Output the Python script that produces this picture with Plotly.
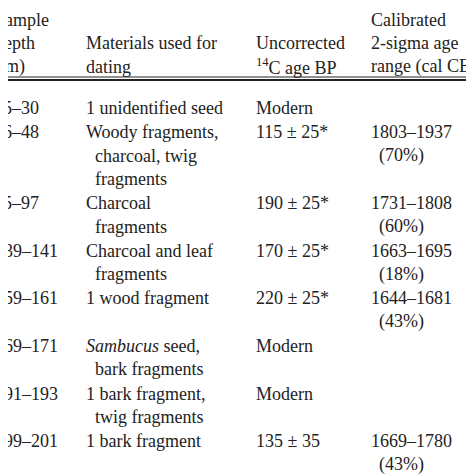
import plotly.graph_objects as go

header = [
    ["Sample", "Depth", "(cm)"],
    ["", "Materials used for", "dating"],
    ["", "Uncorrected", "<sup>14</sup>C age BP"],
    ["Calibrated", "2-sigma age", "range (cal CE)"],
]
depths = ["25–30", "46–48", "95–97", "139–141", "159–161", "169–171", "191–193", "199–201"]
materials = [
    ["1 unidentified seed"],
    ["Woody fragments,", "charcoal, twig", "fragments"],
    ["Charcoal", "fragments"],
    ["Charcoal and leaf", "fragments"],
    ["1 wood fragment", ""],
    ["<i>Sambucus</i> seed,", "bark fragments"],
    ["1 bark fragment,", "twig fragments"],
    ["1 bark fragment", ""],
]
ages = ["Modern", "115 ± 25*", "190 ± 25*", "170 ± 25*", "220 ± 25*", "Modern", "Modern", "135 ± 35"]
calibrated = [[""], ["1803–1937", "(70%)"], ["1731–1808", "(60%)"], ["1663–1695", "(18%)"],
              ["1644–1681", "(43%)"], [""], [""], ["1669–1780", "(43%)"]]

col_x = [None, 76, 246, 361]
indent = [0, 9, 0, 8]
header_right = [43, 29, 19]   # depth column is cut at the left edge: anchor right
line_h = 23.3
font = dict(family="Liberation Serif", size=18, color="#222")

ann = []
def put(x, y, t, anchor="left"):
    ann.append(dict(x=x, y=y, xref="x", yref="y", text=t, showarrow=False,
                    xanchor=anchor, yanchor="middle", font=font))

for c, lines in enumerate(header):
    for i, t in enumerate(lines):
        if not t:
            continue
        if c == 0:
            put(header_right[i], 12 + i * line_h, t, "right")
        else:
            put(col_x[c], 12 + i * line_h, t)

y = 100
for r in range(len(depths)):
    put(33 if len(depths[r]) == 5 else 52, y, depths[r], "right")
    cols = [materials[r], [ages[r]], calibrated[r]]
    n = max(len(v) for v in cols)
    for c, lines in enumerate(cols, start=1):
        for i, t in enumerate(lines):
            if t:
                put(col_x[c] + (indent[c] if i > 0 else 0), y + i * line_h, t)
    y += n * line_h + 1

fig = go.Figure()
fig.update_layout(
    width=474, height=474, margin=dict(l=0, r=0, t=0, b=0, autoexpand=False),
    paper_bgcolor="white", plot_bgcolor="white",
    xaxis=dict(range=[0, 474], visible=False, fixedrange=True),
    yaxis=dict(range=[474, 0], visible=False, fixedrange=True),
    annotations=ann,
    shapes=[
        dict(type="line", xref="x", yref="y", x0=0, x1=474, y0=69, y1=69, line=dict(color="#222", width=1)),
        dict(type="line", xref="x", yref="y", x0=0, x1=474, y0=72, y1=72, line=dict(color="#222", width=2)),
    ],
)
fig.write_html("out.html")
